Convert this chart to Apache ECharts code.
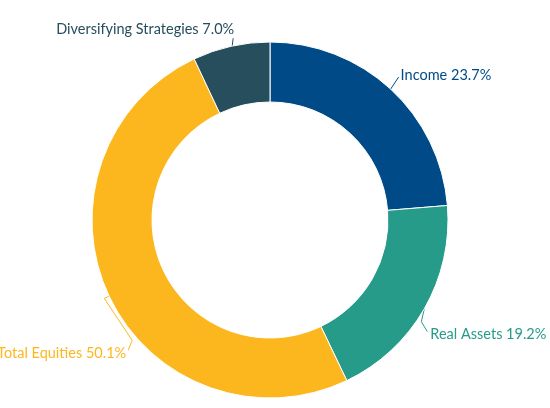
<!DOCTYPE html>
<html>
<head>
<meta charset="utf-8">
<script src="https://cdn.jsdelivr.net/npm/echarts@6/dist/echarts.min.js"></script>
<style>
    html, body { margin: 0; padding: 0; background: #fff; }
    #chart { width: 550px; height: 408px; }
</style>
</head>
<body>
<div id="chart"></div>
<script>
// 数据: 顺时针, 从12点方向开始
const categories = ['Income', 'Real Assets', 'Total Equities', 'Diversifying Strategies'];
const shares = [23.7, 19.2, 50.1, 7.0];
const sliceColors = ['#004b87', '#279b8a', '#fdb71e', '#264e5d'];

// 标签引线微调 (相对于扇区外缘中点)
const labelTweaks = [
    { line: [[0, 0], [8, -12]], text: [10, -14], align: 'left' },
    { line: [[0, 0], [-3, 13], [3, 23]], text: [6, 26], align: 'left' },
    { line: [[0, 0], [-5, 2], [23, 44], [19, 54]], text: [17, 57], align: 'right' },
    { line: [[1, 0], [2, -8]], text: [3, -17], align: 'right' }
];

const chart = echarts.init(document.getElementById('chart'));

const pieData = categories.map((name, i) => ({
    name: name,
    value: shares[i],
    itemStyle: { color: sliceColors[i] },
    label: { color: sliceColors[i] },
    labelLine: { lineStyle: { color: sliceColors[i] } }
}));

chart.setOption({
    animation: false,
    series: [{
        type: 'pie',
        center: [270, 220],
        radius: [118, 178],
        startAngle: 90,
        clockwise: true,
        avoidLabelOverlap: false,
        itemStyle: { borderColor: '#fff', borderWidth: 1 },
        label: {
            show: true,
            position: 'outside',
            fontFamily: 'Lato',
            fontSize: 14.5,
            formatter: p => p.name + ' ' + p.value.toFixed(1) + '%'
        },
        labelLine: { show: true, length: 10, length2: 0, lineStyle: { width: 1 } },
        labelLayout: function (p) {
            const t = labelTweaks[p.dataIndex];
            const pts = p.labelLinePoints;
            if (!t || !pts) return {};
            const a = pts[0];
            return {
                x: a[0] + t.text[0],
                y: a[1] + t.text[1],
                align: t.align,
                verticalAlign: 'middle',
                labelLinePoints: t.line.map(d => [a[0] + d[0], a[1] + d[1]])
            };
        },
        data: pieData
    }]
});
</script>
</body>
</html>
